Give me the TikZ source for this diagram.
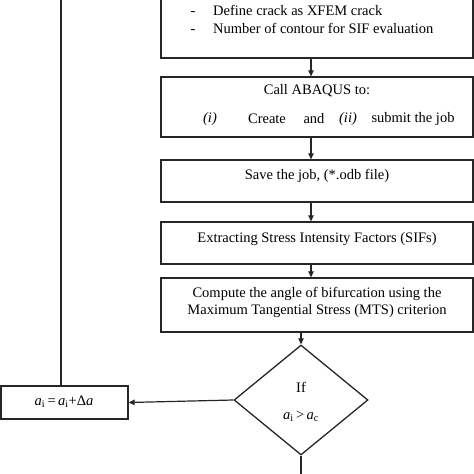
\documentclass[tikz,border=0pt]{standalone}
\usepackage{fontspec}
\setmainfont{Liberation Serif}
\usetikzlibrary{arrows.meta,shapes.geometric}
\begin{document}
\begin{tikzpicture}[x=1pt,y=-1pt,
  font=\fontsize{14.5}{17.5}\selectfont,
  boxline/.style={draw=black!85,line width=1.3pt},
  stepbox/.style={boxline,rectangle,inner sep=0pt,minimum width=312pt},
  txt/.style={inner sep=0pt,text=black},
  arr/.style={draw=black!85,line width=1.2pt,-{Triangle[length=6pt,width=5.5pt]}}]
\useasboundingbox (0,0) rectangle (474,474);
\clip (0,0) rectangle (474,474);
% boxes
\node[stepbox,minimum height=78pt] (def) at (317,19) {};
\node[stepbox,minimum height=60pt] (call) at (317,107) {};
\node[stepbox,minimum height=42pt] (save) at (317,181) {};
\node[stepbox,minimum height=42pt] (sif) at (317,243) {};
\node[stepbox,minimum height=54pt] (mts) at (317,305) {};
\node[boxline,diamond,minimum width=134pt,minimum height=110pt,inner sep=0pt] (dia) at (301,400) {};
\node[boxline,rectangle,minimum width=127pt,minimum height=33pt,inner sep=0pt] (inc) at (64.5,402.5) {};
\coordinate (top) at (61,-10);
\coordinate (bot) at (301,490);
\coordinate (ax) at (311,0);
\coordinate (dx) at (193,0);
% texts
\node[txt,anchor=west] (d1t) at (213,10) {Define crack as XFEM crack};
\node[txt,anchor=base] (d1) at (d1t.base -| dx) {-};
\node[txt,anchor=west] (d2t) at (213,28) {Number of contour for SIF evaluation};
\node[txt,anchor=base] (d2) at (d2t.base -| dx) {-};
\node[txt] (c1) at (317,91) {Call ABAQUS to:};
\node[txt] (c2) at (210,119) {\textit{(i)}};
\node[txt] (c3) at (267,119) {Create};
\node[txt] (c4) at (314,119) {and};
\node[txt] (c5) at (348,119) {\textit{(ii)}};
\node[txt] (c6) at (413,119) {submit the job};
\node[txt] (s1) at (317,176) {Save the job, (*.odb file)};
\node[txt] (f1) at (317,239) {Extracting Stress Intensity Factors (SIFs)};
\node[txt,align=center] (m1) at (317,302.5) {Compute the angle of bifurcation using the\\Maximum Tangential Stress (MTS) criterion};
\node[txt] (if1) at (301,387) {If};
\node[txt] (if2) at (301,416) {\textit{a}\textsubscript{i}\,>\,\textit{a}\textsubscript{c}};
\node[txt] (inct) at (64,402) {\textit{a}\textsubscript{i}\,=\,\textit{a}\textsubscript{i}+Δ\textit{a}};
% connectors
\draw[arr] (def.south -| ax) -- (call.north -| ax);
\draw[arr] (call.south -| ax) -- (save.north -| ax);
\draw[arr] (save.south -| ax) -- (sif.north -| ax);
\draw[arr] (sif.south -| ax) -- (mts.north -| ax);
\draw[arr] (mts.south -| dia.north) -- (dia.north);
\draw[arr] (dia.west) -- (inc.east);
\draw[boxline] (inc.north -| top) -- (top);
\draw[arr] (dia.south) -- (bot);
\end{tikzpicture}
\end{document}
